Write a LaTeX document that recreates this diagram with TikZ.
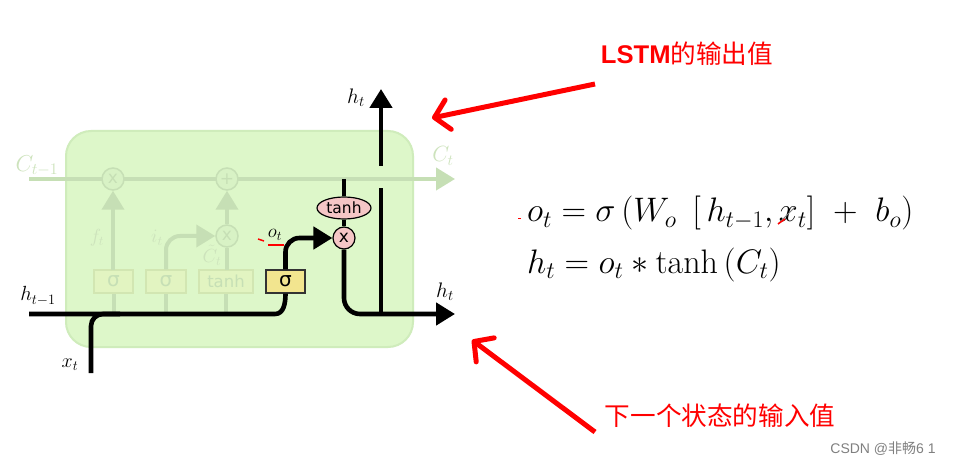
\documentclass[tikz,border=0pt]{standalone}
\usepackage{fix-cm}
\usepackage{fontspec}
\usepackage{amsmath}
\setsansfont{DejaVu Sans}
\newfontfamily\cjk{Noto Sans CJK SC}
\newfontfamily\arialfont{Liberation Sans}
\usetikzlibrary{arrows.meta,shapes.geometric}
\definecolor{cellgreen}{HTML}{DDF7C9}
\definecolor{celledge}{HTML}{CFECBB}
\definecolor{fadeline}{HTML}{C6DFB5}
\definecolor{fadetext}{HTML}{CDE3BC}
\definecolor{fadebox}{HTML}{E2F4C1}
\definecolor{fadeedge}{HTML}{D2E6B2}
\definecolor{gatebox}{HTML}{F2E58F}
\definecolor{gatepink}{HTML}{F5C6C6}
\definecolor{notered}{HTML}{FF0000}
\tikzset{
    fadeflow/.style={line width=4pt,fadeline},
    flow/.style={line width=4.6pt,black},
    headfade/.style={-{Triangle[length=19pt,width=22pt]}},
    headflow/.style={-{Triangle[length=19pt,width=22pt]}},
    fadecircle/.style={circle,draw=fadeline,fill=cellgreen!80!fadeline,line width=1.5pt,
        minimum size=22pt,inner sep=0pt,text=fadeline,font=\sffamily\fontsize{17}{17}\selectfont},
    fadegate/.style={rectangle,draw=fadeedge,fill=fadebox,line width=1.2pt,minimum height=23pt,
        inner sep=0pt,text=fadeline,font=\sffamily\fontsize{20}{20}\selectfont},
    fadelabel/.style={text=fadetext,inner sep=0pt},
    mathlabel/.style={text=black,inner sep=0pt},
    notearrow/.style={line width=5pt,notered,
        -{Straight Barb[length=14pt,width=30pt,line width=5pt,round]}},
    notetext/.style={text=notered,inner sep=0pt,font=\arialfont\bfseries\fontsize{25.6}{26}\selectfont},
    eqn/.style={inner sep=0pt,anchor=base west,font=\fontsize{34}{34}\selectfont}
}
\begin{document}
\begin{tikzpicture}[x=1pt,y=-1pt]
    \useasboundingbox (0,0) rectangle (953,465);
    \fill[white] (0,0) rectangle (953,465);

    \node[draw=celledge,fill=cellgreen,line width=2pt,rounded corners=25pt,minimum width=347pt,
        minimum height=216pt,inner sep=0pt] (cell) at (239.5,239) {};

    % faded part of the cell
    \coordinate (cin) at (29,179);
    \coordinate (cout) at (455,179);
    \draw[fadeflow,headfade] (cin) -- (cout);
    \node[fadecircle] (forgetx) at (113,179) {x};
    \node[fadecircle] (addplus) at (227,179) {+};
    \node[fadecircle] (inputx) at (227,236) {x};
    \node[fadegate,minimum width=39pt] (sigmaf) at (113.5,281.5) {σ};
    \node[fadegate,minimum width=40pt] (sigmai) at (166,281.5) {σ};
    \node[fadegate,minimum width=54pt] (tanhc) at (226,281.5) {\fontsize{16.5}{17}\selectfont tanh};
    \coordinate (fbus) at (113.5,314);
    \coordinate (ibus) at (166,314);
    \coordinate (cbus) at (226,314);
    \draw[fadeflow] (fbus) -- (sigmaf);
    \draw[fadeflow] (ibus) -- (sigmai);
    \draw[fadeflow] (cbus) -- (tanhc);
    \draw[fadeflow,headfade] (113,270) -- (forgetx);
    \draw[fadeflow] (227,270) -- (inputx);
    \draw[fadeflow,headfade] (inputx) -- (addplus);
    \draw[fadeflow,headfade,rounded corners=14pt] (sigmai.north) |- (inputx.west);

    \node[fadelabel,font=\fontsize{23}{23}\selectfont] (clast) at (37,166) {$C_{t-1}$};
    \node[fadelabel,font=\fontsize{22}{22}\selectfont] (cnow) at (443,156) {$C_t$};
    \node[fadelabel,font=\fontsize{19}{19}\selectfont] (flabel) at (97,238) {$f_t$};
    \node[fadelabel,font=\fontsize{19}{19}\selectfont] (ilabel) at (157,238) {$i_t$};
    \node[fadelabel,font=\fontsize{19}{19}\selectfont] (ctilde) at (212,255) {$\tilde{C}_t$};

    % output gate, black
    \node[rectangle,draw=black!80,fill=gatebox,line width=1.2pt,minimum width=39pt,minimum height=23pt,
        inner sep=0pt,font=\sffamily\fontsize{20}{20}\selectfont] (sigmao) at (285.5,281.5) {σ};
    \node[circle,draw=black,fill=gatepink,line width=1.2pt,minimum size=22pt,inner sep=0pt,
        font=\sffamily\fontsize{17}{17}\selectfont] (outx) at (344,238) {x};
    \node[ellipse,draw=black,fill=gatepink,line width=1.2pt,minimum width=54pt,minimum height=22pt,
        inner sep=0pt,font=\sffamily\fontsize{15.5}{16}\selectfont] (tanho) at (344,208) {tanh};

    \coordinate (hin) at (29,314);
    \coordinate (hout) at (455,314);
    \coordinate (xin) at (91,373);
    \coordinate (hjoin) at (381,314);
    \coordinate (cstart) at (344,179);
    \coordinate (upstart) at (381,188);
    \coordinate (upcut) at (381,166);
    \coordinate (uptip) at (381,89);
    \draw[flow] (hin) -- (275,314) to[out=0,in=-90] (sigmao.south);
    \draw[flow,rounded corners=12pt] (xin) |- (120,314);
    \draw[flow,headflow,rounded corners=14pt] (sigmao.north) |- (outx.west);
    \draw[flow] (cstart) -- (tanho);
    \draw[flow] (tanho) -- (outx);
    \draw[flow,headflow,rounded corners=16pt] (outx.south) |- (hout);
    \draw[flow] (hjoin) -- (upstart);
    \draw[flow,headflow] (upcut) -- (uptip);

    \node[mathlabel,font=\fontsize{21}{21}\selectfont] (hupper) at (356,98) {$h_t$};
    \node[mathlabel,font=\fontsize{21}{21}\selectfont] (hright) at (445,292) {$h_t$};
    \node[mathlabel,font=\fontsize{20.5}{21}\selectfont] (hlast) at (38,296) {$h_{t-1}$};
    \node[mathlabel,font=\fontsize{20}{20}\selectfont] (xlabel) at (70,365) {$x_t$};
    \node[mathlabel,font=\fontsize{19}{19}\selectfont] (olabel) at (275,235) {$o_t$};
    \coordinate (oa) at (268,245);
    \coordinate (ob) at (284,245);
    \draw[notered,line width=1.2pt] (oa) -- (ob);
    \coordinate (oc) at (258,239);
    \coordinate (od) at (264,241);
    \draw[notered,line width=1.5pt] (oc) -- (od);

    % formulas
    \node[eqn] (eqo) at (527,222) {$o_t=\sigma\,(W_o\ \,[\,h_{t-1},x_t]\ +\ b_o)$};
    \node[eqn] (eqh) at (527,273) {$h_t=o_t*\tanh\,(C_t)$};
    \coordinate (ma) at (518,218.5);
    \coordinate (mb) at (521,218.5);
    \draw[notered,line width=1.2pt] (ma) -- (mb);
    \coordinate (sa) at (778,224);
    \coordinate (sb) at (795,207);
    \draw[gray,line width=1pt] (sa) -- (sb);
    \coordinate (sc) at (778,224);
    \coordinate (sd) at (785,219);
    \draw[notered,line width=1.5pt] (sc) -- (sd);

    % notes
    \node[notetext] (noteout) at (687,54) {LSTM{\cjk\mdseries 的输出值}};
    \node[notetext,font=\cjk\fontsize{25.6}{26}\selectfont] (notein) at (720,416) {下一个状态的输入值};
    \coordinate (outtail) at (595,84);
    \coordinate (outtip) at (432,118);
    \coordinate (intail) at (595,432);
    \coordinate (intip) at (472,340);
    \draw[notearrow] (outtail) -- (outtip);
    \draw[notearrow] (intail) -- (intip);

    \node[inner sep=0pt,text=black!50,font=\arialfont\fontsize{14}{14}\selectfont] (mark) at (883,449)
        {CSDN @{\cjk 非畅}6 1};
\end{tikzpicture}
\end{document}
